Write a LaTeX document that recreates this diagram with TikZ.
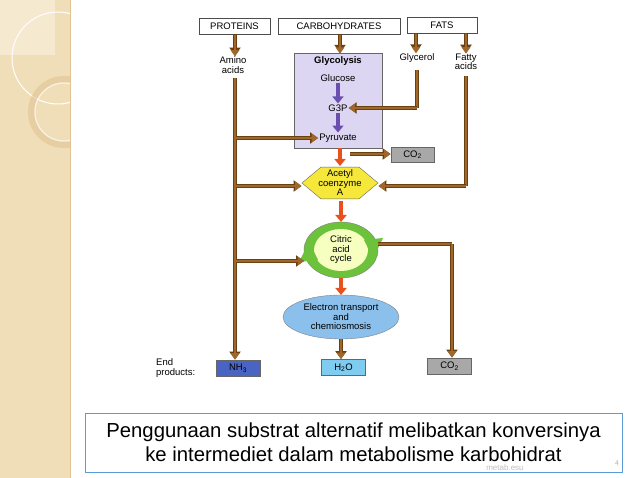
\documentclass[tikz,border=0pt]{standalone}
\usepackage{fontspec}
\setmainfont{Liberation Sans}
\usetikzlibrary{arrows.meta,shapes.geometric}
\definecolor{side}{HTML}{F0DEB8}
\definecolor{brn}{HTML}{A0672A}
\definecolor{brnd}{HTML}{6A4010}
\definecolor{org}{HTML}{E8501E}
\definecolor{pur}{HTML}{6A4FB0}
\definecolor{lav}{HTML}{DCD6F2}
\definecolor{ylw}{HTML}{F5E83A}
\definecolor{grn}{HTML}{6CC23A}
\definecolor{ebl}{HTML}{8CC0EC}
\definecolor{nhb}{HTML}{4A64C4}
\definecolor{hob}{HTML}{7ECCF0}
\definecolor{gry}{HTML}{A8A8A8}
\definecolor{cap}{HTML}{5B9BD5}
\begin{document}
\begin{tikzpicture}[x=1pt,y=-1pt,
  src/.style={draw=black!70,fill=white,line width=0.8pt,minimum height=16pt,font=\fontsize{9.5}{10}\selectfont,inner sep=1pt},
  lbl/.style={font=\fontsize{9.5}{9.5}\selectfont,align=center,inner sep=1pt},
  prod/.style={draw=black!60,line width=0.8pt,minimum height=16pt,minimum width=44pt,font=\fontsize{9.5}{10}\selectfont,inner sep=1pt},
  ba/.style={draw=brnd,line width=4.4pt,-{Triangle[length=8pt,width=11pt]}},
  bi/.style={draw=brn,line width=2.6pt,-{Triangle[length=6.5pt,width=8.5pt]}},
  bl/.style={draw=brn,line width=2.6pt},
  bld/.style={draw=brnd,line width=4.4pt},
  oa/.style={draw=org,line width=4pt,-{Triangle[length=7pt,width=11pt]}},
  pa/.style={draw=pur,line width=4pt,-{Triangle[length=7pt,width=11pt]}}]
\useasboundingbox (0,0) rectangle (638,478);
\fill[white] (0,0) rectangle (638,478);
% sidebar
\begin{scope}
\clip (0,0) rectangle (70,478);
\fill[side] (0,0) rectangle (70,478);
\fill[white,opacity=0.35] (0,0) rectangle (55,55);
\draw[white,line width=1pt] (58,58) circle (46);
\draw[side!70!brown,opacity=0.6,line width=6pt] (64,112) circle (33);
\draw[white,opacity=0.7,line width=1pt] (64,112) circle (29);
\end{scope}
\draw[side!70!brown,line width=1pt] (70,0) -- (70,478);
% sources
\node[src,minimum width=71pt] (prot) at (234.5,26) {PROTEINS};
\node[src,minimum width=122pt] (carb) at (339,26) {CARBOHYDRATES};
\node[src,minimum width=70pt] (fats) at (442,25.5) {FATS};
\node[lbl] (amino) at (233,65) {Amino\\acids};
\node[lbl] (glyc) at (417,58) {Glycerol};
\node[lbl] (fatty) at (466,62) {Fatty\\acids};
% glycolysis box
\node[draw=black!60,fill=lav,minimum width=88pt,minimum height=95pt,inner sep=0] (gbox) at (338,100.5) {};
\node[lbl,font=\fontsize{9.5}{10}\selectfont\bfseries] (gt) at (338,61) {Glycolysis};
\node[lbl] (gluc) at (338,78) {Glucose};
\node[lbl] (g3p) at (338,108) {G3P};
\node[lbl] (pyr) at (338,138) {Pyruvate};
\node[prod,fill=gry,minimum width=43pt,minimum height=15pt] (co2a) at (412.5,154.5) {CO\textsubscript{2}};
\node[regular polygon,regular polygon sides=6,shape border rotate=0,draw=black!60,fill=ylw,minimum size=40pt,xscale=1.9,yscale=0.92,inner sep=0] (acet) at (340,183) {};
\node[lbl] (acett) at (340,183) {Acetyl\\coenzyme\\A};
% citric
\fill[grn] (341,250) ellipse (37 and 28);
\fill[green!15!yellow!25] (341,250) ellipse (27 and 21);
\draw[black!50] (341,250) ellipse (37 and 28);
\fill[grn] (299,262) -- (309,242) -- (318,260) -- cycle;
\fill[grn] (383,238) -- (373,258) -- (364,240) -- cycle;
\node[lbl] (cit) at (341,250) {Citric\\acid\\cycle};
\coordinate (citl) at (304,261);
\coordinate (citr) at (378,244);
\node[ellipse,draw=black!50,fill=ebl,minimum width=116pt,minimum height=44pt,inner sep=0] (etc) at (341,317) {};
\node[lbl] at (341,317) {Electron transport\\and\\chemiosmosis};
% products
\node[lbl,align=left,anchor=west] (end) at (155,368) {End\\products:};
\node[prod,fill=nhb] (nh3) at (238,368) {NH\textsubscript{3}};
\node[prod,fill=hob] (h2o) at (343.5,367.5) {H\textsubscript{2}O};
\node[prod,fill=gry] (co2b) at (449.5,366) {CO\textsubscript{2}};
% arrows
\foreach \s/\t/\x in {prot/amino/235,carb/gbox/340,fats/glyc/416,fats/fatty/466}{
  \draw[ba] (\s.south -| \x,0) -- (\t.north -| \x,0);
  \draw[bi] ([yshift=-0.5pt]\s.south -| \x,0) -- ([yshift=-1pt]\t.north -| \x,0);}
\coordinate (ga) at (235,78);
\coordinate (b1) at (235,138);
\coordinate (b2) at (235,186);
\coordinate (b3) at (235,261);
\coordinate (gl1) at (417,70);
\coordinate (gl2) at (417,108);
\coordinate (fa1) at (466,76);
\coordinate (fa2) at (466,186);
\coordinate (c1) at (452,244);
\coordinate (cs) at (350,154);
\foreach \st in {bld,bl}{
  \draw[\st] (gl1) -- (gl2);
  \draw[\st] (fa1) -- (fa2);
  \draw[\st] (citr) -- (c1);
}
\foreach \st in {ba,bi}{
  \draw[\st] (ga) -- (ga |- nh3.north);
  \draw[\st] (gl2) -- (gl2 -| g3p.east);
  \draw[\st] (fa2) -- (fa2 -| acet.east);
  \draw[\st] (b1) -- (b1 -| pyr.west);
  \draw[\st] (b2) -- (b2 -| acet.west);
  \draw[\st] (b3) -- (citl);
  \draw[\st] (c1) -- (c1 |- co2b.north);
  \draw[\st] (cs) -- (cs -| co2a.west);
  \draw[\st] (etc.south) -- (etc.south |- h2o.north);
}
\draw[pa] (gluc.south) -- (g3p.north);
\draw[pa] (g3p.south) -- (pyr.north);
\draw[oa] (340,148) -- (340,166);
\draw[oa] (341,201) -- (341,222);
\draw[oa] (341,278) -- (341,295);
% caption
\node[draw=cap,line width=0.8pt,minimum width=537pt,minimum height=59pt,align=center,font=\fontsize{20.3}{24}\selectfont] (capt) at (353.5,442.5) {Penggunaan substrat alternatif melibatkan konversinya\\ke intermediet dalam metabolisme karbohidrat};
\node[text=black!25,font=\fontsize{8}{9}\selectfont] (ft) at (505,468) {metab.esu};
\node[text=black!30,font=\fontsize{7}{8}\selectfont] (pg) at (617,463) {4};
\end{tikzpicture}
\end{document}
